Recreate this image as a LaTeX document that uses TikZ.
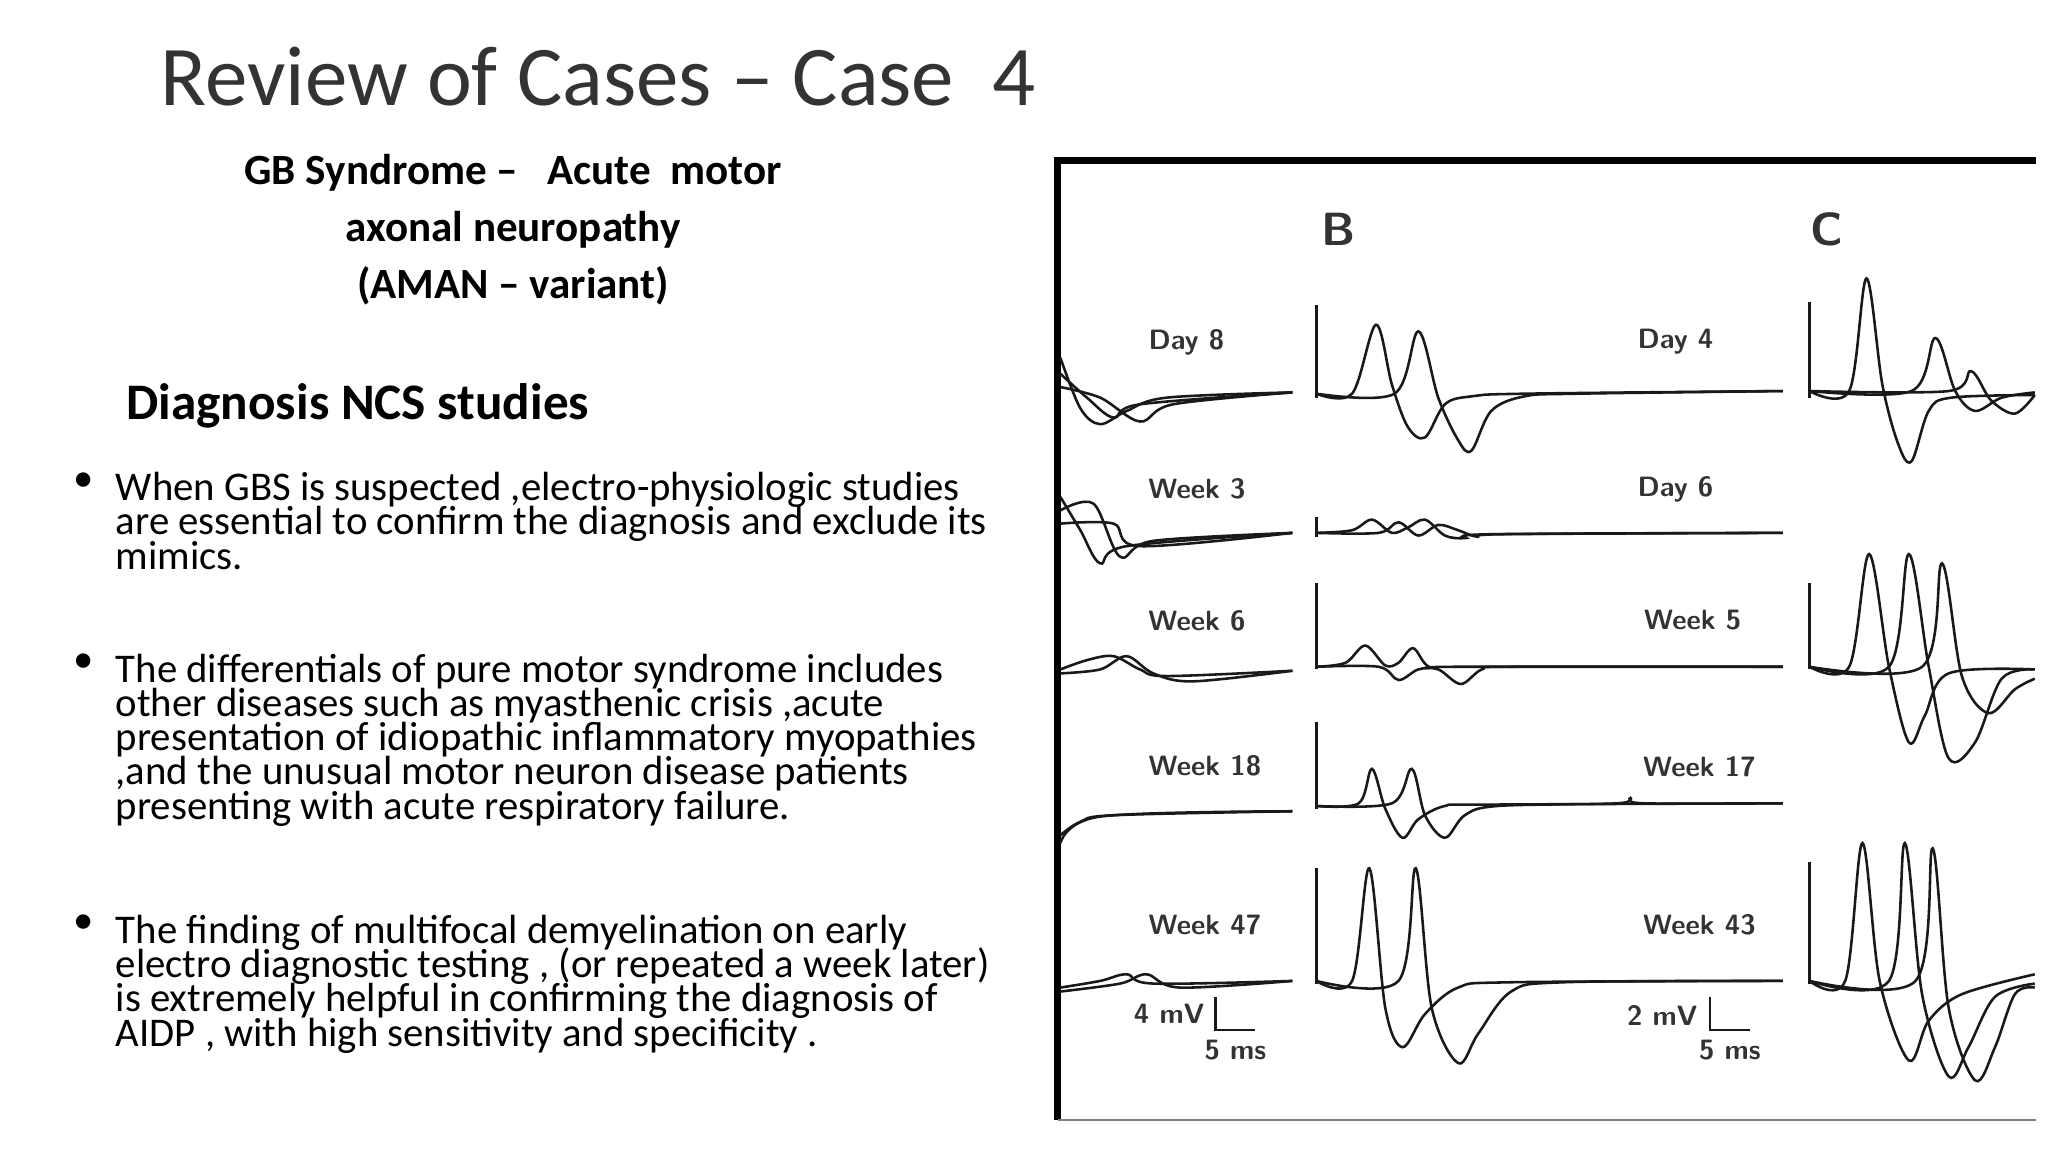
\documentclass[tikz,border=0pt]{standalone}
\usepackage{fontspec}
\setmainfont{Carlito}
\newcommand\mytight{\lineskiplimit=-100pt\relax\lineskip=0pt\relax}
\begin{document}
\begin{tikzpicture}[x=0.02cm,y=-0.02cm,
  tr/.style={line width=1.1pt,gray!20!black},
  lab/.style={font=\fontsize{12}{12}\selectfont\bfseries\sffamily,text=black!80},
  body/.style={anchor=north west,align=left,font=\fontsize{17.5}{14.7}\selectfont\mytight,inner sep=0pt},
  bul/.style={anchor=north west,font=\fontsize{17.5}{14.7}\selectfont,inner sep=0pt}]
\useasboundingbox (0,0) rectangle (1545,869);
\node[anchor=west,inner sep=0pt,font=\fontsize{36.5}{36}\selectfont\color{black!80}] (title) at (121,58) {Review of Cases -- Case\ \ 4};
\node[align=center,font=\fontsize{18.5}{24.5}\selectfont\bfseries] (sub) at (387,173) {GB Syndrome --\ \ \ Acute\ \ motor\\axonal neuropathy\\(AMAN -- variant)};
\node[anchor=west,inner sep=0pt,font=\fontsize{22}{22}\selectfont\bfseries] (diag) at (95,306) {Diagnosis NCS studies};
\node[bul] (b1) at (55,356) {•};
\node[body] (t1) at (87,356) {When GBS is suspected ,electro-physiologic studies\\are essential to confirm the diagnosis and exclude its\\mimics.};
\node[bul] (b2) at (55,493) {•};
\node[body] (t2) at (87,493) {The differentials of pure motor syndrome includes\\other diseases such as myasthenic crisis ,acute\\presentation of idiopathic inflammatory myopathies\\,and the unusual motor neuron disease patients\\presenting with acute respiratory failure.};
\node[bul] (b3) at (55,690) {•};
\node[body] (t3) at (87,690) {The finding of multifocal demyelination on early\\electro diagnostic testing , (or repeated a week later)\\is extremely helpful in confirming the diagnosis of\\AIDP , with high sensitivity and specificity .};
% frame
\draw[line width=3pt] (798,845) -- (798,121) -- (1536,121);
\draw[line width=1pt,gray] (798,845) -- (1536,845);
\node[font=\fontsize{20}{20}\selectfont\bfseries\sffamily,text=black!80] (B) at (1010,173) {B};
\node[font=\fontsize{20}{20}\selectfont\bfseries\sffamily,text=black!80] (C) at (1378,173) {C};
\foreach \t/\x/\y in {Day 8/895/258,Week 3/903/369,Week 6/903/468,Week 18/909/578,Week 47/909/698,Day 4/1264/258,Day 6/1264/369,Week 5/1277/468,Week 17/1282/578,Week 43/1282/698}
  \node[lab] at (\x,\y) {\t};
\node[lab] at (882,765) {4 mV};
\node[lab] at (932,792) {5 ms};
\draw[tr] (917,752) -- (917,777) -- (947,777);
\node[lab] at (1254,766) {2 mV};
\node[lab] at (1305,792) {5 ms};
\draw[tr] (1290,752) -- (1290,777) -- (1320,777);
\tikzset{every plot/.style={smooth,tension=0.55}}
% Row 1
\draw[tr] (993,300) -- (993,230);
\draw[tr] plot coordinates {(993,297)(1020,297)(1038,245)(1050,290)(1062,322)(1075,330)(1090,305)(1110,299)(1150,297)(1345,295)};
\draw[tr] plot coordinates {(993,297)(1052,297)(1070,250)(1085,300)(1100,332)(1110,340)(1125,310)(1150,299)(1190,297)(1345,295)};
\draw[tr] (1365,300) -- (1365,228);
\draw[tr] plot coordinates {(1365,295)(1395,295)(1408,210)(1420,290)(1432,335)(1442,348)(1455,310)(1472,300)(1535,298)};
\draw[tr] plot coordinates {(1365,295)(1442,295)(1460,255)(1475,295)(1490,310)(1510,300)(1535,296)};
\draw[tr] plot coordinates {(1365,295)(1470,295)(1487,280)(1502,302)(1520,312)(1535,298)};
\draw[tr] plot coordinates {(800,270)(815,308)(830,320)(850,310)(880,300)(975,296)};
\draw[tr] plot coordinates {(800,282)(820,300)(840,315)(860,305)(975,296)};
\draw[tr] plot coordinates {(800,292)(830,300)(860,318)(885,305)(975,296)};
% Row 2
\draw[tr] (993,390) -- (993,405);
\draw[tr] plot coordinates {(993,402)(1020,400)(1035,392)(1050,402)(1062,398)(1075,392)(1090,404)(1105,406)(1125,403)(1345,402)};
\draw[tr] plot coordinates {(993,402)(1040,402)(1055,394)(1070,404)(1085,396)(1100,400)(1115,405)(1135,403)(1345,402)};
\draw[tr] plot coordinates {(800,375)(815,400)(830,425)(850,412)(975,402)};
\draw[tr] plot coordinates {(800,385)(825,380)(845,420)(870,408)(975,402)};
\draw[tr] plot coordinates {(800,395)(840,395)(860,412)(975,402)};
% Row 3
\draw[tr] (993,440) -- (993,505);
\draw[tr] plot coordinates {(993,503)(1015,500)(1030,487)(1045,502)(1055,500)(1066,489)(1078,503)(1100,503)(1345,503)};
\draw[tr] plot coordinates {(993,503)(1040,503)(1055,513)(1070,505)(1085,505)(1102,516)(1118,505)(1140,503)(1345,503)};
\draw[tr] (1365,440) -- (1365,505);
\draw[tr] plot coordinates {(1365,503)(1395,503)(1410,418)(1425,503)(1440,560)(1452,540)(1470,508)(1535,505)};
\draw[tr] plot coordinates {(1365,503)(1425,503)(1440,418)(1455,503)(1470,572)(1490,560)(1510,512)(1535,505)};
\draw[tr] plot coordinates {(1365,503)(1450,503)(1465,425)(1480,510)(1500,538)(1520,520)(1535,512)};
\draw[tr] plot coordinates {(800,505)(820,498)(840,495)(860,505)(880,510)(975,506)};
\draw[tr] plot coordinates {(800,508)(830,505)(850,495)(870,508)(900,514)(975,506)};
% Row 4
\draw[tr] (993,545) -- (993,610);
\draw[tr] plot coordinates {(993,608)(1025,606)(1035,580)(1045,610)(1058,632)(1070,618)(1090,608)(1120,607)(1345,606)};
\draw[tr] plot coordinates {(993,608)(1050,606)(1065,580)(1075,615)(1090,632)(1105,615)(1130,608)(1220,606)(1230,602)(1240,606)(1345,606)};
\draw[tr] plot coordinates {(800,630)(815,620)(840,615)(975,612)};
\draw[tr] plot coordinates {(800,636)(830,616)(975,612)};
% Row 5
\draw[tr] (993,655) -- (993,742);
\draw[tr] plot coordinates {(993,740)(1020,740)(1033,655)(1045,760)(1058,790)(1075,765)(1100,745)(1140,741)(1345,740)};
\draw[tr] plot coordinates {(993,740)(1055,740)(1068,655)(1080,760)(1100,802)(1115,780)(1140,748)(1180,741)(1345,740)};
\draw[tr] (1365,650) -- (1365,742);
\draw[tr] plot coordinates {(1365,740)(1392,740)(1405,636)(1418,740)(1440,800)(1455,770)(1480,750)(1535,735)};
\draw[tr] plot coordinates {(1365,740)(1425,740)(1437,636)(1450,750)(1470,812)(1485,790)(1505,752)(1535,742)};
\draw[tr] plot coordinates {(1365,740)(1445,740)(1458,640)(1470,760)(1490,815)(1505,790)(1520,750)(1535,745)};
\draw[tr] plot coordinates {(800,745)(830,740)(850,735)(870,742)(975,740)};
\draw[tr] plot coordinates {(800,748)(845,742)(865,735)(890,745)(975,740)};
\end{tikzpicture}
\end{document}
